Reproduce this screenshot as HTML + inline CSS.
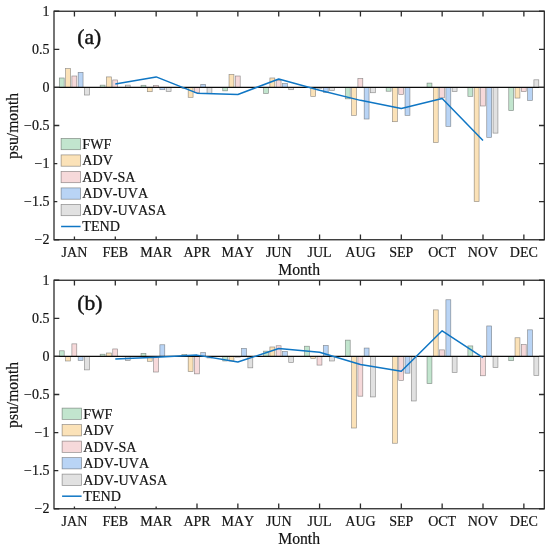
<!DOCTYPE html><html><head><meta charset="utf-8"><title>chart</title><style>html,body{margin:0;padding:0;background:#fff}svg{display:block}text{font-kerning:none}</style></head><body><svg width="550" height="549" viewBox="0 0 550 549" font-family="Liberation Serif, Times New Roman, serif" fill="#141414" stroke="#141414" stroke-width="0.2">
<rect width="550" height="549" fill="#fff" stroke="none"/>
<rect x="59.31" y="77.97" width="4.90" height="9.44" fill="#c2e5ce" stroke="rgba(60,60,60,0.55)" stroke-width="0.65"/>
<rect x="65.59" y="68.53" width="4.90" height="18.89" fill="#fbe2b8" stroke="rgba(60,60,60,0.55)" stroke-width="0.65"/>
<rect x="71.88" y="75.99" width="4.90" height="11.42" fill="#f6d9da" stroke="rgba(60,60,60,0.55)" stroke-width="0.65"/>
<rect x="78.16" y="72.34" width="4.90" height="15.08" fill="#b9d4f5" stroke="rgba(60,60,60,0.55)" stroke-width="0.65"/>
<rect x="84.45" y="87.42" width="4.90" height="7.62" fill="#e1e1e1" stroke="rgba(60,60,60,0.55)" stroke-width="0.65"/>
<rect x="100.16" y="85.13" width="4.90" height="2.28" fill="#c2e5ce" stroke="rgba(60,60,60,0.55)" stroke-width="0.65"/>
<rect x="106.45" y="76.91" width="4.90" height="10.51" fill="#fbe2b8" stroke="rgba(60,60,60,0.55)" stroke-width="0.65"/>
<rect x="112.74" y="79.95" width="4.90" height="7.46" fill="#f6d9da" stroke="rgba(60,60,60,0.55)" stroke-width="0.65"/>
<rect x="125.31" y="85.13" width="4.90" height="2.28" fill="#e1e1e1" stroke="rgba(60,60,60,0.55)" stroke-width="0.65"/>
<rect x="141.02" y="85.28" width="4.90" height="2.13" fill="#c2e5ce" stroke="rgba(60,60,60,0.55)" stroke-width="0.65"/>
<rect x="147.31" y="87.42" width="4.90" height="4.27" fill="#fbe2b8" stroke="rgba(60,60,60,0.55)" stroke-width="0.65"/>
<rect x="153.59" y="85.51" width="4.90" height="1.90" fill="#f6d9da" stroke="rgba(60,60,60,0.55)" stroke-width="0.65"/>
<rect x="159.88" y="87.42" width="4.90" height="2.28" fill="#b9d4f5" stroke="rgba(60,60,60,0.55)" stroke-width="0.65"/>
<rect x="166.17" y="87.42" width="4.90" height="3.96" fill="#e1e1e1" stroke="rgba(60,60,60,0.55)" stroke-width="0.65"/>
<rect x="181.88" y="87.42" width="4.90" height="1.14" fill="#c2e5ce" stroke="rgba(60,60,60,0.55)" stroke-width="0.65"/>
<rect x="188.17" y="87.42" width="4.90" height="9.90" fill="#fbe2b8" stroke="rgba(60,60,60,0.55)" stroke-width="0.65"/>
<rect x="194.45" y="87.42" width="4.90" height="5.33" fill="#f6d9da" stroke="rgba(60,60,60,0.55)" stroke-width="0.65"/>
<rect x="200.74" y="84.37" width="4.90" height="3.05" fill="#b9d4f5" stroke="rgba(60,60,60,0.55)" stroke-width="0.65"/>
<rect x="207.02" y="87.42" width="4.90" height="6.09" fill="#e1e1e1" stroke="rgba(60,60,60,0.55)" stroke-width="0.65"/>
<rect x="222.74" y="87.42" width="4.90" height="3.43" fill="#c2e5ce" stroke="rgba(60,60,60,0.55)" stroke-width="0.65"/>
<rect x="229.03" y="74.47" width="4.90" height="12.95" fill="#fbe2b8" stroke="rgba(60,60,60,0.55)" stroke-width="0.65"/>
<rect x="235.31" y="75.99" width="4.90" height="11.42" fill="#f6d9da" stroke="rgba(60,60,60,0.55)" stroke-width="0.65"/>
<rect x="263.60" y="87.42" width="4.90" height="6.09" fill="#c2e5ce" stroke="rgba(60,60,60,0.55)" stroke-width="0.65"/>
<rect x="269.88" y="77.97" width="4.90" height="9.44" fill="#fbe2b8" stroke="rgba(60,60,60,0.55)" stroke-width="0.65"/>
<rect x="276.17" y="80.33" width="4.90" height="7.08" fill="#f6d9da" stroke="rgba(60,60,60,0.55)" stroke-width="0.65"/>
<rect x="282.46" y="83.61" width="4.90" height="3.81" fill="#b9d4f5" stroke="rgba(60,60,60,0.55)" stroke-width="0.65"/>
<rect x="288.74" y="87.42" width="4.90" height="2.28" fill="#e1e1e1" stroke="rgba(60,60,60,0.55)" stroke-width="0.65"/>
<rect x="310.74" y="87.42" width="4.90" height="8.91" fill="#fbe2b8" stroke="rgba(60,60,60,0.55)" stroke-width="0.65"/>
<rect x="317.03" y="87.42" width="4.90" height="0.76" fill="#f6d9da" stroke="rgba(60,60,60,0.55)" stroke-width="0.65"/>
<rect x="323.31" y="87.42" width="4.90" height="4.95" fill="#b9d4f5" stroke="rgba(60,60,60,0.55)" stroke-width="0.65"/>
<rect x="329.60" y="87.42" width="4.90" height="3.05" fill="#e1e1e1" stroke="rgba(60,60,60,0.55)" stroke-width="0.65"/>
<rect x="345.31" y="87.42" width="4.90" height="11.42" fill="#c2e5ce" stroke="rgba(60,60,60,0.55)" stroke-width="0.65"/>
<rect x="351.60" y="87.42" width="4.90" height="27.95" fill="#fbe2b8" stroke="rgba(60,60,60,0.55)" stroke-width="0.65"/>
<rect x="357.89" y="78.51" width="4.90" height="8.91" fill="#f6d9da" stroke="rgba(60,60,60,0.55)" stroke-width="0.65"/>
<rect x="364.17" y="87.42" width="4.90" height="31.61" fill="#b9d4f5" stroke="rgba(60,60,60,0.55)" stroke-width="0.65"/>
<rect x="370.46" y="87.42" width="4.90" height="5.33" fill="#e1e1e1" stroke="rgba(60,60,60,0.55)" stroke-width="0.65"/>
<rect x="386.17" y="87.42" width="4.90" height="3.81" fill="#c2e5ce" stroke="rgba(60,60,60,0.55)" stroke-width="0.65"/>
<rect x="392.46" y="87.42" width="4.90" height="34.28" fill="#fbe2b8" stroke="rgba(60,60,60,0.55)" stroke-width="0.65"/>
<rect x="398.74" y="87.42" width="4.90" height="7.08" fill="#f6d9da" stroke="rgba(60,60,60,0.55)" stroke-width="0.65"/>
<rect x="405.03" y="87.42" width="4.90" height="27.95" fill="#b9d4f5" stroke="rgba(60,60,60,0.55)" stroke-width="0.65"/>
<rect x="427.03" y="83.08" width="4.90" height="4.34" fill="#c2e5ce" stroke="rgba(60,60,60,0.55)" stroke-width="0.65"/>
<rect x="433.32" y="87.42" width="4.90" height="55.07" fill="#fbe2b8" stroke="rgba(60,60,60,0.55)" stroke-width="0.65"/>
<rect x="439.60" y="87.42" width="4.90" height="10.43" fill="#f6d9da" stroke="rgba(60,60,60,0.55)" stroke-width="0.65"/>
<rect x="445.89" y="87.42" width="4.90" height="39.00" fill="#b9d4f5" stroke="rgba(60,60,60,0.55)" stroke-width="0.65"/>
<rect x="452.17" y="87.42" width="4.90" height="4.11" fill="#e1e1e1" stroke="rgba(60,60,60,0.55)" stroke-width="0.65"/>
<rect x="467.89" y="87.42" width="4.90" height="8.91" fill="#c2e5ce" stroke="rgba(60,60,60,0.55)" stroke-width="0.65"/>
<rect x="474.18" y="87.42" width="4.90" height="114.17" fill="#fbe2b8" stroke="rgba(60,60,60,0.55)" stroke-width="0.65"/>
<rect x="480.46" y="87.42" width="4.90" height="18.58" fill="#f6d9da" stroke="rgba(60,60,60,0.55)" stroke-width="0.65"/>
<rect x="486.75" y="87.42" width="4.90" height="49.97" fill="#b9d4f5" stroke="rgba(60,60,60,0.55)" stroke-width="0.65"/>
<rect x="493.03" y="87.42" width="4.90" height="45.70" fill="#e1e1e1" stroke="rgba(60,60,60,0.55)" stroke-width="0.65"/>
<rect x="508.75" y="87.42" width="4.90" height="23.15" fill="#c2e5ce" stroke="rgba(60,60,60,0.55)" stroke-width="0.65"/>
<rect x="515.03" y="87.42" width="4.90" height="10.66" fill="#fbe2b8" stroke="rgba(60,60,60,0.55)" stroke-width="0.65"/>
<rect x="521.32" y="87.42" width="4.90" height="4.11" fill="#f6d9da" stroke="rgba(60,60,60,0.55)" stroke-width="0.65"/>
<rect x="527.61" y="87.42" width="4.90" height="12.95" fill="#b9d4f5" stroke="rgba(60,60,60,0.55)" stroke-width="0.65"/>
<rect x="533.89" y="79.80" width="4.90" height="7.62" fill="#e1e1e1" stroke="rgba(60,60,60,0.55)" stroke-width="0.65"/>
<line x1="54.0" x2="544.3" y1="87.42" y2="87.42" stroke="#0a0a0a" stroke-width="1.15"/>
<polyline points="115.29,83.99 156.15,76.91 197.00,93.13 237.86,94.50 278.72,79.04 319.58,90.31 360.44,100.36 401.30,108.51 442.15,98.46 483.01,140.43" fill="none" stroke="#0f76c4" stroke-width="1.5" stroke-linejoin="round"/>
<path d="M74.43 239.75v-5.3M74.43 11.25v5.3M115.29 239.75v-5.3M115.29 11.25v5.3M156.15 239.75v-5.3M156.15 11.25v5.3M197.00 239.75v-5.3M197.00 11.25v5.3M237.86 239.75v-5.3M237.86 11.25v5.3M278.72 239.75v-5.3M278.72 11.25v5.3M319.58 239.75v-5.3M319.58 11.25v5.3M360.44 239.75v-5.3M360.44 11.25v5.3M401.30 239.75v-5.3M401.30 11.25v5.3M442.15 239.75v-5.3M442.15 11.25v5.3M483.01 239.75v-5.3M483.01 11.25v5.3M523.87 239.75v-5.3M523.87 11.25v5.3M54.0 11.25h5.3M544.3 11.25h-5.3M54.0 49.33h5.3M544.3 49.33h-5.3M54.0 87.42h5.3M544.3 87.42h-5.3M54.0 125.50h5.3M544.3 125.50h-5.3M54.0 163.58h5.3M544.3 163.58h-5.3M54.0 201.67h5.3M544.3 201.67h-5.3M54.0 239.75h5.3M544.3 239.75h-5.3" stroke="#2b2b2b" stroke-width="1.3" fill="none"/>
<rect x="54.0" y="11.25" width="490.30" height="228.50" fill="none" stroke="#2b2b2b" stroke-width="1.3"/>
<text x="74.43" y="256.90" font-size="14" text-anchor="middle">JAN</text>
<text x="115.29" y="256.90" font-size="14" text-anchor="middle">FEB</text>
<text x="156.15" y="256.90" font-size="14" text-anchor="middle">MAR</text>
<text x="197.00" y="256.90" font-size="14" text-anchor="middle">APR</text>
<text x="237.86" y="256.90" font-size="14" text-anchor="middle">MAY</text>
<text x="278.72" y="256.90" font-size="14" text-anchor="middle">JUN</text>
<text x="319.58" y="256.90" font-size="14" text-anchor="middle">JUL</text>
<text x="360.44" y="256.90" font-size="14" text-anchor="middle">AUG</text>
<text x="401.30" y="256.90" font-size="14" text-anchor="middle">SEP</text>
<text x="442.15" y="256.90" font-size="14" text-anchor="middle">OCT</text>
<text x="483.01" y="256.90" font-size="14" text-anchor="middle">NOV</text>
<text x="523.87" y="256.90" font-size="14" text-anchor="middle">DEC</text>
<text x="49.4" y="15.85" font-size="14" text-anchor="end">1</text>
<text x="49.4" y="53.93" font-size="14" text-anchor="end">0.5</text>
<text x="49.4" y="92.02" font-size="14" text-anchor="end">0</text>
<text x="49.4" y="130.10" font-size="14" text-anchor="end">−0.5</text>
<text x="49.4" y="168.18" font-size="14" text-anchor="end">−1</text>
<text x="49.4" y="206.27" font-size="14" text-anchor="end">−1.5</text>
<text x="49.4" y="244.35" font-size="14" text-anchor="end">−2</text>
<text x="299.15" y="274.60" font-size="15.7" text-anchor="middle">Month</text>
<text transform="translate(18.2,125.90) rotate(-90)" font-size="15.65" text-anchor="middle">psu/month</text>
<text x="77.3" y="43.70" font-size="21.5" stroke-width="0.45">(a)</text>
<rect x="57.30" y="134.00" width="114" height="102.50" fill="#fff" stroke="none"/>
<rect x="61.10" y="138.40" width="19.5" height="11.3" fill="#c2e5ce" stroke="rgba(60,60,60,0.55)" stroke-width="0.7"/>
<text x="82.30" y="148.80" font-size="14.1">FWF</text>
<rect x="61.10" y="154.90" width="19.5" height="11.3" fill="#fbe2b8" stroke="rgba(60,60,60,0.55)" stroke-width="0.7"/>
<text x="82.30" y="165.30" font-size="14.1">ADV</text>
<rect x="61.10" y="171.40" width="19.5" height="11.3" fill="#f6d9da" stroke="rgba(60,60,60,0.55)" stroke-width="0.7"/>
<text x="82.30" y="181.80" font-size="14.1">ADV-SA</text>
<rect x="61.10" y="187.90" width="19.5" height="11.3" fill="#b9d4f5" stroke="rgba(60,60,60,0.55)" stroke-width="0.7"/>
<text x="82.30" y="198.30" font-size="14.1">ADV-UVA</text>
<rect x="61.10" y="204.40" width="19.5" height="11.3" fill="#e1e1e1" stroke="rgba(60,60,60,0.55)" stroke-width="0.7"/>
<text x="82.30" y="214.80" font-size="14.1">ADV-UVASA</text>
 <line x1="61.10" x2="80.60" y1="226.50" y2="226.50" stroke="#0f76c4" stroke-width="1.5"/>
<text x="82.30" y="231.30" font-size="14.1">TEND</text>
<rect x="59.31" y="350.78" width="4.90" height="5.64" fill="#c2e5ce" stroke="rgba(60,60,60,0.55)" stroke-width="0.65"/>
<rect x="65.59" y="356.42" width="4.90" height="4.57" fill="#fbe2b8" stroke="rgba(60,60,60,0.55)" stroke-width="0.65"/>
<rect x="71.88" y="343.85" width="4.90" height="12.57" fill="#f6d9da" stroke="rgba(60,60,60,0.55)" stroke-width="0.65"/>
<rect x="78.16" y="356.42" width="4.90" height="3.96" fill="#b9d4f5" stroke="rgba(60,60,60,0.55)" stroke-width="0.65"/>
<rect x="84.45" y="356.42" width="4.90" height="13.48" fill="#e1e1e1" stroke="rgba(60,60,60,0.55)" stroke-width="0.65"/>
<rect x="100.16" y="354.21" width="4.90" height="2.21" fill="#c2e5ce" stroke="rgba(60,60,60,0.55)" stroke-width="0.65"/>
<rect x="106.45" y="352.99" width="4.90" height="3.43" fill="#fbe2b8" stroke="rgba(60,60,60,0.55)" stroke-width="0.65"/>
<rect x="112.74" y="348.95" width="4.90" height="7.46" fill="#f6d9da" stroke="rgba(60,60,60,0.55)" stroke-width="0.65"/>
<rect x="125.31" y="356.42" width="4.90" height="4.19" fill="#e1e1e1" stroke="rgba(60,60,60,0.55)" stroke-width="0.65"/>
<rect x="141.02" y="353.37" width="4.90" height="3.05" fill="#c2e5ce" stroke="rgba(60,60,60,0.55)" stroke-width="0.65"/>
<rect x="147.31" y="356.42" width="4.90" height="4.87" fill="#fbe2b8" stroke="rgba(60,60,60,0.55)" stroke-width="0.65"/>
<rect x="153.59" y="356.42" width="4.90" height="15.61" fill="#f6d9da" stroke="rgba(60,60,60,0.55)" stroke-width="0.65"/>
<rect x="159.88" y="344.76" width="4.90" height="11.65" fill="#b9d4f5" stroke="rgba(60,60,60,0.55)" stroke-width="0.65"/>
<rect x="181.88" y="354.44" width="4.90" height="1.98" fill="#c2e5ce" stroke="rgba(60,60,60,0.55)" stroke-width="0.65"/>
<rect x="188.17" y="356.42" width="4.90" height="15.08" fill="#fbe2b8" stroke="rgba(60,60,60,0.55)" stroke-width="0.65"/>
<rect x="194.45" y="356.42" width="4.90" height="17.44" fill="#f6d9da" stroke="rgba(60,60,60,0.55)" stroke-width="0.65"/>
<rect x="200.74" y="352.61" width="4.90" height="3.81" fill="#b9d4f5" stroke="rgba(60,60,60,0.55)" stroke-width="0.65"/>
<rect x="207.02" y="356.42" width="4.90" height="1.52" fill="#e1e1e1" stroke="rgba(60,60,60,0.55)" stroke-width="0.65"/>
<rect x="222.74" y="356.42" width="4.90" height="4.57" fill="#c2e5ce" stroke="rgba(60,60,60,0.55)" stroke-width="0.65"/>
<rect x="229.03" y="356.42" width="4.90" height="4.57" fill="#fbe2b8" stroke="rgba(60,60,60,0.55)" stroke-width="0.65"/>
<rect x="235.31" y="356.42" width="4.90" height="0.76" fill="#f6d9da" stroke="rgba(60,60,60,0.55)" stroke-width="0.65"/>
<rect x="241.60" y="348.42" width="4.90" height="8.00" fill="#b9d4f5" stroke="rgba(60,60,60,0.55)" stroke-width="0.65"/>
<rect x="247.88" y="356.42" width="4.90" height="11.43" fill="#e1e1e1" stroke="rgba(60,60,60,0.55)" stroke-width="0.65"/>
<rect x="263.60" y="351.16" width="4.90" height="5.26" fill="#c2e5ce" stroke="rgba(60,60,60,0.55)" stroke-width="0.65"/>
<rect x="269.88" y="346.97" width="4.90" height="9.44" fill="#fbe2b8" stroke="rgba(60,60,60,0.55)" stroke-width="0.65"/>
<rect x="276.17" y="345.75" width="4.90" height="10.66" fill="#f6d9da" stroke="rgba(60,60,60,0.55)" stroke-width="0.65"/>
<rect x="282.46" y="351.54" width="4.90" height="4.87" fill="#b9d4f5" stroke="rgba(60,60,60,0.55)" stroke-width="0.65"/>
<rect x="288.74" y="356.42" width="4.90" height="6.02" fill="#e1e1e1" stroke="rgba(60,60,60,0.55)" stroke-width="0.65"/>
<rect x="304.46" y="346.21" width="4.90" height="10.21" fill="#c2e5ce" stroke="rgba(60,60,60,0.55)" stroke-width="0.65"/>
<rect x="310.74" y="356.42" width="4.90" height="2.06" fill="#fbe2b8" stroke="rgba(60,60,60,0.55)" stroke-width="0.65"/>
<rect x="317.03" y="356.42" width="4.90" height="8.68" fill="#f6d9da" stroke="rgba(60,60,60,0.55)" stroke-width="0.65"/>
<rect x="323.31" y="345.45" width="4.90" height="10.97" fill="#b9d4f5" stroke="rgba(60,60,60,0.55)" stroke-width="0.65"/>
<rect x="329.60" y="356.42" width="4.90" height="4.57" fill="#e1e1e1" stroke="rgba(60,60,60,0.55)" stroke-width="0.65"/>
<rect x="345.31" y="340.12" width="4.90" height="16.30" fill="#c2e5ce" stroke="rgba(60,60,60,0.55)" stroke-width="0.65"/>
<rect x="351.60" y="356.42" width="4.90" height="71.60" fill="#fbe2b8" stroke="rgba(60,60,60,0.55)" stroke-width="0.65"/>
<rect x="357.89" y="356.42" width="4.90" height="39.76" fill="#f6d9da" stroke="rgba(60,60,60,0.55)" stroke-width="0.65"/>
<rect x="364.17" y="348.04" width="4.90" height="8.38" fill="#b9d4f5" stroke="rgba(60,60,60,0.55)" stroke-width="0.65"/>
<rect x="370.46" y="356.42" width="4.90" height="40.52" fill="#e1e1e1" stroke="rgba(60,60,60,0.55)" stroke-width="0.65"/>
<rect x="392.46" y="356.42" width="4.90" height="86.83" fill="#fbe2b8" stroke="rgba(60,60,60,0.55)" stroke-width="0.65"/>
<rect x="398.74" y="356.42" width="4.90" height="23.92" fill="#f6d9da" stroke="rgba(60,60,60,0.55)" stroke-width="0.65"/>
<rect x="405.03" y="356.42" width="4.90" height="16.76" fill="#b9d4f5" stroke="rgba(60,60,60,0.55)" stroke-width="0.65"/>
<rect x="411.32" y="356.42" width="4.90" height="44.56" fill="#e1e1e1" stroke="rgba(60,60,60,0.55)" stroke-width="0.65"/>
<rect x="427.03" y="356.42" width="4.90" height="27.19" fill="#c2e5ce" stroke="rgba(60,60,60,0.55)" stroke-width="0.65"/>
<rect x="433.32" y="309.88" width="4.90" height="46.54" fill="#fbe2b8" stroke="rgba(60,60,60,0.55)" stroke-width="0.65"/>
<rect x="439.60" y="349.87" width="4.90" height="6.55" fill="#f6d9da" stroke="rgba(60,60,60,0.55)" stroke-width="0.65"/>
<rect x="445.89" y="299.75" width="4.90" height="56.67" fill="#b9d4f5" stroke="rgba(60,60,60,0.55)" stroke-width="0.65"/>
<rect x="452.17" y="356.42" width="4.90" height="16.00" fill="#e1e1e1" stroke="rgba(60,60,60,0.55)" stroke-width="0.65"/>
<rect x="467.89" y="345.91" width="4.90" height="10.51" fill="#c2e5ce" stroke="rgba(60,60,60,0.55)" stroke-width="0.65"/>
<rect x="480.46" y="356.42" width="4.90" height="19.35" fill="#f6d9da" stroke="rgba(60,60,60,0.55)" stroke-width="0.65"/>
<rect x="486.75" y="325.95" width="4.90" height="30.47" fill="#b9d4f5" stroke="rgba(60,60,60,0.55)" stroke-width="0.65"/>
<rect x="493.03" y="356.42" width="4.90" height="11.12" fill="#e1e1e1" stroke="rgba(60,60,60,0.55)" stroke-width="0.65"/>
<rect x="508.75" y="356.42" width="4.90" height="4.27" fill="#c2e5ce" stroke="rgba(60,60,60,0.55)" stroke-width="0.65"/>
<rect x="515.03" y="337.76" width="4.90" height="18.66" fill="#fbe2b8" stroke="rgba(60,60,60,0.55)" stroke-width="0.65"/>
<rect x="521.32" y="344.61" width="4.90" height="11.81" fill="#f6d9da" stroke="rgba(60,60,60,0.55)" stroke-width="0.65"/>
<rect x="527.61" y="329.83" width="4.90" height="26.58" fill="#b9d4f5" stroke="rgba(60,60,60,0.55)" stroke-width="0.65"/>
<rect x="533.89" y="356.42" width="4.90" height="19.04" fill="#e1e1e1" stroke="rgba(60,60,60,0.55)" stroke-width="0.65"/>
<line x1="54.0" x2="544.3" y1="356.42" y2="356.42" stroke="#0a0a0a" stroke-width="1.15"/>
<polyline points="115.29,358.93 156.15,357.33 197.00,355.12 237.86,362.05 278.72,348.42 319.58,352.30 360.44,364.57 401.30,371.19 442.15,330.82 483.01,357.71" fill="none" stroke="#0f76c4" stroke-width="1.5" stroke-linejoin="round"/>
<path d="M74.43 508.75v-5.3M74.43 280.25v5.3M115.29 508.75v-5.3M115.29 280.25v5.3M156.15 508.75v-5.3M156.15 280.25v5.3M197.00 508.75v-5.3M197.00 280.25v5.3M237.86 508.75v-5.3M237.86 280.25v5.3M278.72 508.75v-5.3M278.72 280.25v5.3M319.58 508.75v-5.3M319.58 280.25v5.3M360.44 508.75v-5.3M360.44 280.25v5.3M401.30 508.75v-5.3M401.30 280.25v5.3M442.15 508.75v-5.3M442.15 280.25v5.3M483.01 508.75v-5.3M483.01 280.25v5.3M523.87 508.75v-5.3M523.87 280.25v5.3M54.0 280.25h5.3M544.3 280.25h-5.3M54.0 318.33h5.3M544.3 318.33h-5.3M54.0 356.42h5.3M544.3 356.42h-5.3M54.0 394.50h5.3M544.3 394.50h-5.3M54.0 432.58h5.3M544.3 432.58h-5.3M54.0 470.67h5.3M544.3 470.67h-5.3M54.0 508.75h5.3M544.3 508.75h-5.3" stroke="#2b2b2b" stroke-width="1.3" fill="none"/>
<rect x="54.0" y="280.25" width="490.30" height="228.50" fill="none" stroke="#2b2b2b" stroke-width="1.3"/>
<text x="74.43" y="526.10" font-size="14" text-anchor="middle">JAN</text>
<text x="115.29" y="526.10" font-size="14" text-anchor="middle">FEB</text>
<text x="156.15" y="526.10" font-size="14" text-anchor="middle">MAR</text>
<text x="197.00" y="526.10" font-size="14" text-anchor="middle">APR</text>
<text x="237.86" y="526.10" font-size="14" text-anchor="middle">MAY</text>
<text x="278.72" y="526.10" font-size="14" text-anchor="middle">JUN</text>
<text x="319.58" y="526.10" font-size="14" text-anchor="middle">JUL</text>
<text x="360.44" y="526.10" font-size="14" text-anchor="middle">AUG</text>
<text x="401.30" y="526.10" font-size="14" text-anchor="middle">SEP</text>
<text x="442.15" y="526.10" font-size="14" text-anchor="middle">OCT</text>
<text x="483.01" y="526.10" font-size="14" text-anchor="middle">NOV</text>
<text x="523.87" y="526.10" font-size="14" text-anchor="middle">DEC</text>
<text x="49.4" y="284.85" font-size="14" text-anchor="end">1</text>
<text x="49.4" y="322.93" font-size="14" text-anchor="end">0.5</text>
<text x="49.4" y="361.02" font-size="14" text-anchor="end">0</text>
<text x="49.4" y="399.10" font-size="14" text-anchor="end">−0.5</text>
<text x="49.4" y="437.18" font-size="14" text-anchor="end">−1</text>
<text x="49.4" y="475.27" font-size="14" text-anchor="end">−1.5</text>
<text x="49.4" y="513.35" font-size="14" text-anchor="end">−2</text>
<text x="299.15" y="543.80" font-size="15.7" text-anchor="middle">Month</text>
<text transform="translate(18.2,394.90) rotate(-90)" font-size="15.65" text-anchor="middle">psu/month</text>
<text x="77.3" y="309.80" font-size="21.5" stroke-width="0.45">(b)</text>
<rect x="58.30" y="403.70" width="114" height="102.80" fill="#fff" stroke="none"/>
<rect x="62.10" y="408.10" width="19.5" height="11.3" fill="#c2e5ce" stroke="rgba(60,60,60,0.55)" stroke-width="0.7"/>
<text x="83.30" y="418.50" font-size="14.1">FWF</text>
<rect x="62.10" y="424.60" width="19.5" height="11.3" fill="#fbe2b8" stroke="rgba(60,60,60,0.55)" stroke-width="0.7"/>
<text x="83.30" y="435.00" font-size="14.1">ADV</text>
<rect x="62.10" y="441.10" width="19.5" height="11.3" fill="#f6d9da" stroke="rgba(60,60,60,0.55)" stroke-width="0.7"/>
<text x="83.30" y="451.50" font-size="14.1">ADV-SA</text>
<rect x="62.10" y="457.60" width="19.5" height="11.3" fill="#b9d4f5" stroke="rgba(60,60,60,0.55)" stroke-width="0.7"/>
<text x="83.30" y="468.00" font-size="14.1">ADV-UVA</text>
<rect x="62.10" y="474.10" width="19.5" height="11.3" fill="#e1e1e1" stroke="rgba(60,60,60,0.55)" stroke-width="0.7"/>
<text x="83.30" y="484.50" font-size="14.1">ADV-UVASA</text>
 <line x1="62.10" x2="81.60" y1="496.20" y2="496.20" stroke="#0f76c4" stroke-width="1.5"/>
<text x="83.30" y="501.00" font-size="14.1">TEND</text>
</svg></body></html>
